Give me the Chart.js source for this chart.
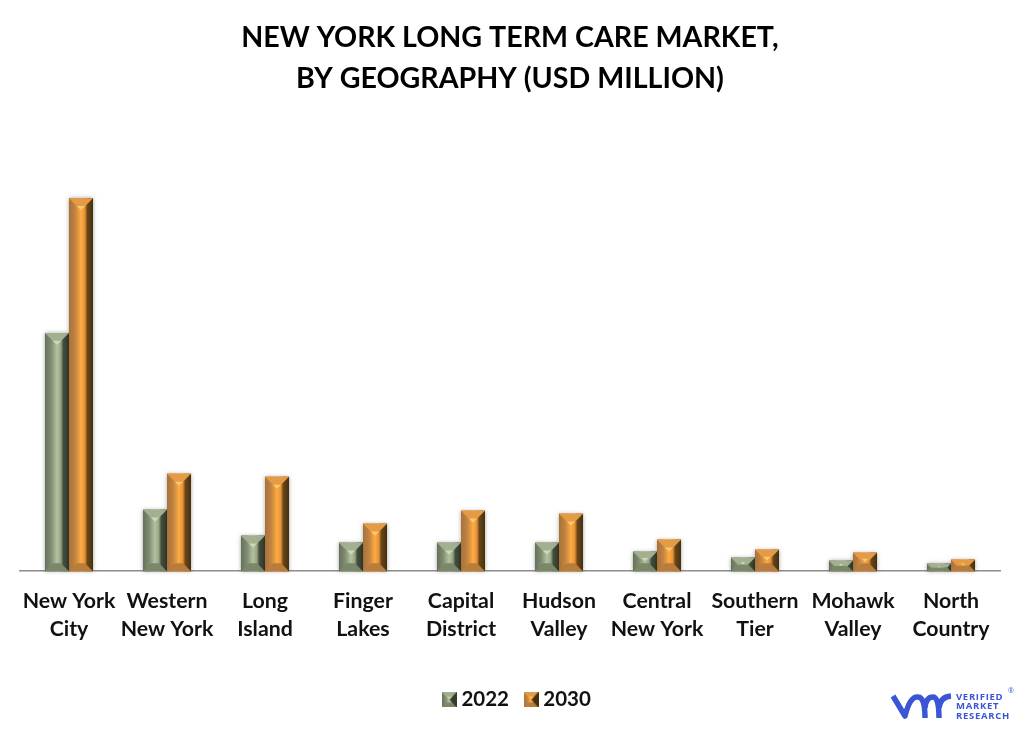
<!DOCTYPE html>
<html>
<head>
<meta charset="utf-8">
<title>New York Long Term Care Market</title>
<script src="https://cdn.jsdelivr.net/npm/chart.js@4"></script>
<style>
    html, body { margin: 0; padding: 0; background: #fff; }
    canvas { display: block; }
</style>
</head>
<body>
<canvas id="chart" width="1025" height="732"></canvas>
<script>
const categories = [['New York', 'City'], ['Western', 'New York'], ['Long', 'Island'], ['Finger', 'Lakes'], ['Capital', 'District'], ['Hudson', 'Valley'], ['Central', 'New York'], ['Southern', 'Tier'], ['Mohawk', 'Valley'], ['North', 'Country']];
const values2022 = [238.5, 61.5, 35.5, 28.5, 28.5, 28.5, 19.5, 13.5, 10.5, 7.5];
const values2030 = [373.5, 97.5, 94.5, 47.5, 60.5, 57.5, 31.5, 21.5, 18.5, 11.5];
const titleLines = ['NEW YORK LONG TERM CARE MARKET,', 'BY GEOGRAPHY (USD MILLION)'];

const green = { base: '#9aa888', top: '#a3b08f', tip: '#ccd8b8', bottom: '#7b8769', stops: ['#66715a', '#7f8b72', '#b4c2a0', '#97a486', '#444d3b', '#343c2e'] };
const orange = { base: '#f09a3a', top: '#e59a46', tip: '#ffc86a', bottom: '#b87c3c', stops: ['#a87238', '#c08342', '#ffab42', '#e59238', '#6a4719', '#44300f'] };

function drawBevel(ctx, x0, x1, top, bottom, pal, depth) {
    const h = bottom - top;
    const w = x1 - x0;
    const d = Math.min(depth, h / 2, w / 2);
    const db = Math.min(depth * 0.67, h / 2);

    const grad = ctx.createLinearGradient(x0, 0, x1, 0);
    [0, 0.25, 0.5, 0.66, 0.76, 1].forEach((s, i) => grad.addColorStop(s, pal.stops[i]));
    ctx.fillStyle = grad;
    ctx.fillRect(x0, top, w, h);

    const poly = (pts, fill) => {
        ctx.beginPath();
        pts.forEach((p, i) => i ? ctx.lineTo(p[0], p[1]) : ctx.moveTo(p[0], p[1]));
        ctx.closePath();
        ctx.fillStyle = fill;
        ctx.fill();
    };
    // bottom face, then top face with its small highlight
    poly([[x0, bottom], [x1, bottom], [x1 - db, bottom - db], [x0 + db, bottom - db]], pal.bottom);
    poly([[x0, top], [x1, top], [x1 - d, top + d], [x0 + d, top + d]], pal.top);
    const mid = (x0 + x1) / 2;
    poly([[mid - d * 0.35, top + d * 0.65], [mid + d * 0.35, top + d * 0.65], [mid, top + d]], pal.tip);
}

// legend icon, same bevel but square
function legendIcon(pal) {
    const c = document.createElement('canvas');
    c.width = 15;
    c.height = 15;
    const g = c.getContext('2d');
    drawBevel(g, 0, 15, 0, 15, pal, 7);
    g.beginPath();
    g.moveTo(15, 0);
    g.lineTo(8, 7.5);
    g.lineTo(15, 15);
    g.closePath();
    g.fillStyle = pal.stops[5];
    g.fill();
    return c;
}

const bevelBars = {
    id: 'bevelBars',
    afterDatasetsDraw(chart) {
        const ctx = chart.ctx;
        chart.data.datasets.forEach((ds, i) => {
            const pal = i === 0 ? green : orange;
            chart.getDatasetMeta(i).data.forEach(bar => {
                const x0 = bar.x - bar.width / 2;
                const x1 = bar.x + bar.width / 2;
                ctx.save();
                ctx.shadowColor = 'rgba(0,0,0,0.35)';
                ctx.shadowBlur = 4;
                ctx.fillStyle = pal.base;
                ctx.fillRect(x0, bar.y, bar.width, bar.base - bar.y);
                ctx.restore();
                drawBevel(ctx, x0, x1, bar.y, bar.base, pal, 12);
            });
        });
    }
};

// legend row sits a little right of the page centre
const legendShift = {
    id: 'legendShift',
    afterLayout(chart) {
        chart.legend.left += 9;
        chart.legend.right += 9;
    }
};

const logo = {
    id: 'logo',
    afterDraw(chart) {
        const ctx = chart.ctx;
        ctx.save();
        ctx.strokeStyle = '#3a56d4';
        ctx.lineWidth = 5.5;
        ctx.lineJoin = 'round';
        ctx.beginPath();
        ctx.moveTo(893, 696);
        ctx.lineTo(905, 716);
        ctx.quadraticCurveTo(910, 696, 918, 697);
        ctx.quadraticCurveTo(925, 697, 925, 718);
        ctx.moveTo(925, 708);
        ctx.quadraticCurveTo(926, 697, 933, 697);
        ctx.quadraticCurveTo(939, 697, 939, 718);
        ctx.moveTo(939, 708);
        ctx.quadraticCurveTo(940, 697, 951, 696);
        ctx.stroke();
        ctx.fillStyle = '#3a56d4';
        ctx.font = 'bold 9.5px "Open Sans"';
        ctx.letterSpacing = '0.7px';
        ctx.textBaseline = 'middle';
        ctx.fillText('VERIFIED', 956, 697);
        ctx.fillText('MARKET', 956, 706.5);
        ctx.fillText('RESEARCH', 956, 716);
        ctx.letterSpacing = '0px';
        ctx.font = '7px "Open Sans"';
        ctx.fillText('®', 1008, 691);
        ctx.restore();
    }
};

new Chart(document.getElementById('chart'), {
    type: 'bar',
    data: {
        labels: categories,
        datasets: [
            { label: '2022', data: values2022, backgroundColor: green.base },
            { label: '2030', data: values2030, backgroundColor: orange.base }
        ]
    },
    options: {
        responsive: false,
        animation: false,
        devicePixelRatio: 1,
        layout: { padding: { left: 20, right: 25, top: 0, bottom: 12 } },
        datasets: { bar: { categoryPercentage: 0.49, barPercentage: 1 } },
        scales: {
            x: {
                grid: { display: false, drawTicks: false },
                border: { color: '#8c8c8c', width: 1.5 },
                ticks: { color: '#111', maxRotation: 0, autoSkip: false, padding: 16, font: { family: 'Lato', size: 21.3, weight: 'bold', lineHeight: 1.31 } },
                afterFit(scale) { scale.height += 10.5; }
            },
            y: { display: false, min: 0, max: 400 }
        },
        plugins: {
            tooltip: { enabled: false },
            title: {
                display: true,
                text: titleLines,
                color: '#000',
                font: { family: 'Lato', size: 28.6, weight: 'bold', lineHeight: 1.43 },
                padding: { top: 17, bottom: 73 }
            },
            legend: {
                position: 'bottom',
                labels: {
                    color: '#111',
                    font: { family: 'Lato', size: 20.5, weight: 'bold' },
                    usePointStyle: true,
                    boxWidth: 4,
                    padding: 20,
                    generateLabels(chart) {
                        return chart.data.datasets.map((ds, i) => ({
                            text: ds.label,
                            pointStyle: legendIcon(i === 0 ? green : orange),
                            fontColor: '#111',
                            datasetIndex: i
                        }));
                    }
                }
            }
        }
    },
    plugins: [bevelBars, legendShift, logo]
});
</script>
</body>
</html>
